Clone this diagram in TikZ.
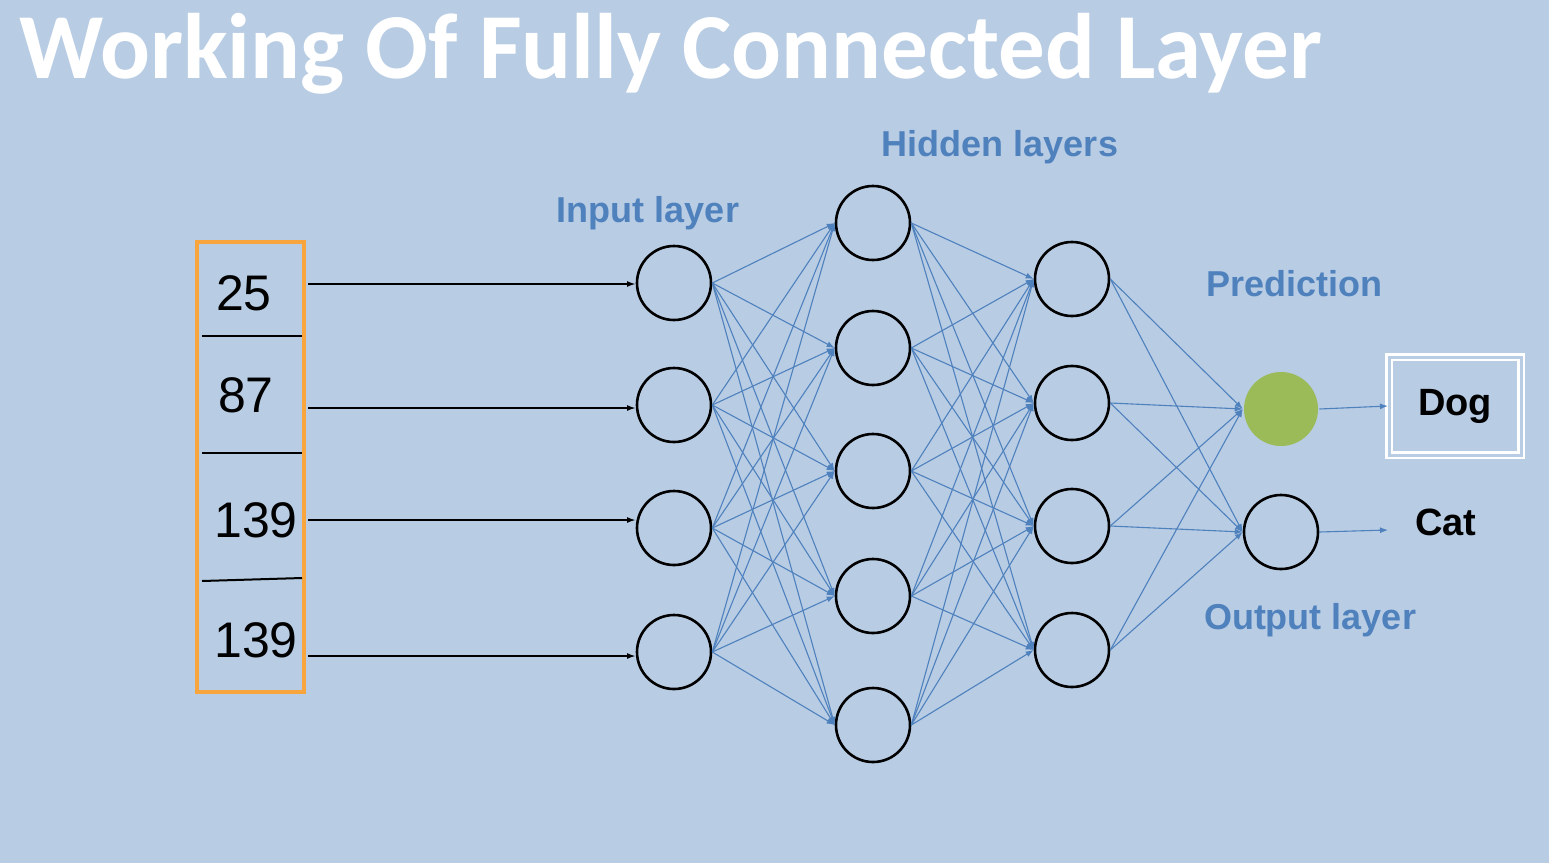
\documentclass[tikz,border=0pt]{standalone}
\usepackage{fontspec}
\setmainfont{Liberation Sans}
\newfontfamily\titlefont{Carlito}
\usetikzlibrary{arrows.meta}
\definecolor{bg}{RGB}{184,204,228}
\definecolor{lblue}{RGB}{79,129,189}
\definecolor{lgreen}{RGB}{155,187,89}
\definecolor{orng}{RGB}{247,165,60}
\begin{document}
\begin{tikzpicture}[x=1pt,y=-1pt,
  neuron/.style={circle,draw=black,line width=2.6pt,minimum size=74pt,inner sep=0pt},
  conn/.style={lblue,line width=1.1pt,-{Latex[length=8pt,width=6pt]}},
  inarr/.style={black,line width=2pt,-{Latex[length=9pt,width=6pt]}},
  lbl/.style={lblue,font=\fontsize{36}{40}\selectfont\bfseries},
  num/.style={font=\fontsize{50}{54}\selectfont},
  cls/.style={font=\fontsize{38}{42}\selectfont\bfseries}]
\fill[bg] (0,0) rectangle (1549,863);
\useasboundingbox (0,0) rectangle (1549,863);
\node[white,anchor=base west,font=\titlefont\fontsize{93}{96}\selectfont\bfseries] (title) at (16,78) {Working Of Fully Connected Layer};
% orange box
\draw[orng,line width=4.5pt] (197,242) rectangle (304,692);
\draw[black,line width=2pt] (202,336) -- (302,336);
\draw[black,line width=2pt] (202,453) -- (302,453);
\draw[black,line width=2pt] (202,581) -- (302,578);
\node[num] (n1) at (244,293) {25};
\node[num] (n2) at (246,395) {87};
\node[num] (n3) at (256,520) {139};
\node[num] (n4) at (256,640) {139};
% neurons
\foreach \i/\y in {1/283,2/405,3/528,4/652} \node[neuron] (a\i) at (674,\y) {};
\foreach \i/\y in {1/223,2/348,3/471,4/596,5/725} \node[neuron] (b\i) at (873,\y) {};
\foreach \i/\y in {1/279,2/403,3/526,4/650} \node[neuron] (c\i) at (1072,\y) {};
\node[neuron,draw=none,fill=lgreen] (o1) at (1281,409) {};
\node[neuron] (o2) at (1281,532) {};
\foreach \i/\y in {1/284,2/408,3/520,4/656} {
  \coordinate (s\i) at (308,\y);
  \draw[inarr] (s\i) -- (636,\y);
}
\foreach \i in {1,...,4} \foreach \j in {1,...,5} \draw[conn] (a\i.east) -- (b\j.west);
\foreach \i in {1,...,5} \foreach \j in {1,...,4} \draw[conn] (b\i.east) -- (c\j.west);
\foreach \i in {1,...,4} \foreach \j in {1,2} \draw[conn] (c\i.east) -- (o\j.west);
% labels
\node[lbl] (l1) at (648,213) {Input layer};
\node[lbl] (l2) at (1000,147) {Hidden layers};
\node[lbl] (l3) at (1294,284) {Prediction};
\node[lbl] (l4) at (1310,620) {Output layer};
% outputs
\node[draw=white,double=bg,double distance=3pt,line width=2.2pt,minimum width=132pt,minimum height=98pt,cls] (dog) at (1455,406) {Dog};
\node[cls] (cat) at (1446,522) {Cat};
\coordinate (catin) at (1388,530);
\draw[conn] (o1.east) -- (dog.west);
\draw[conn] (o2.east) -- (catin);
\end{tikzpicture}
\end{document}
